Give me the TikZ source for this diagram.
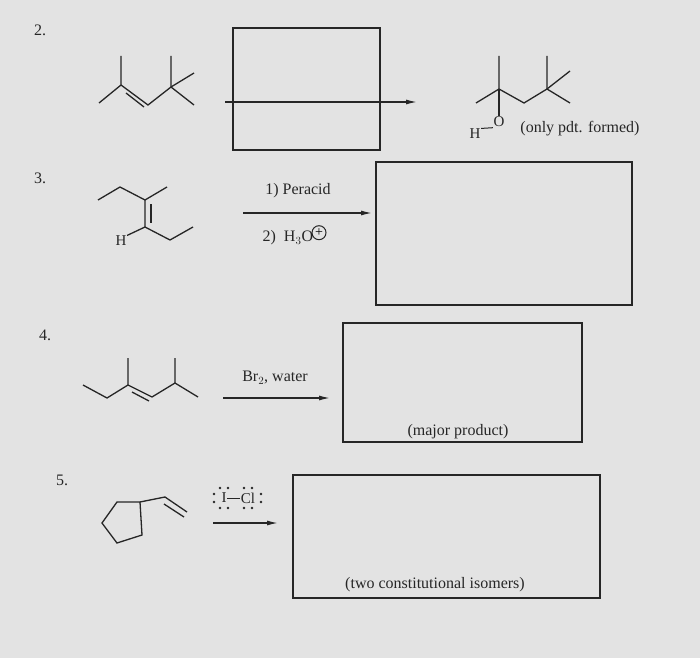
\documentclass[tikz,border=0pt]{standalone}
\usepackage{fontspec}
\setmainfont{Liberation Serif}
\usetikzlibrary{arrows.meta}
\begin{document}
\begin{tikzpicture}[x=1pt,y=-1pt,line width=1.3pt,
  bond/.style={draw=black!85},
  box/.style={draw=black!85,line width=1.4pt},
  rxn/.style={draw=black!85,-{Latex[length=11pt,width=5pt]}},
  lbl/.style={font=\fontsize{16}{18}\selectfont,text=black!85,inner sep=0pt},
  sm/.style={font=\fontsize{15}{17}\selectfont,text=black!85,inner sep=0pt},
  dot/.style={fill=black!85,circle,inner sep=0pt,minimum size=2.8pt}]
\fill[gray!22] (0,0) rectangle (700,658);
\useasboundingbox (0,0) rectangle (700,658);
% numbers
\node[lbl] (n2) at (40,30) {2.};
\node[lbl] (n3) at (40,178) {3.};
\node[lbl] (n4) at (45,335) {4.};
\node[lbl] (n5) at (62,480) {5.};
% problem 2
\draw[bond] (99,103)--(121,85)--(121,56);
\draw[bond] (121,85)--(148,105)--(171,87)--(171,56);
\draw[bond] (126,93)--(144,107);
\draw[bond] (171,87)--(194,73); \draw[bond] (171,87)--(194,105);
\draw[box] (233,28) rectangle (380,150);
\coordinate (a2s) at (225,102); \coordinate (a2e) at (417,102);
\draw[rxn] (a2s)--(a2e);
\node[sm] (O2) at (499,122) {O};
\node[sm] (H2) at (475,134) {H};
\draw[bond] (476,103)--(499,89)--(499,56);
\draw[bond] (499,89)--(O2.north);
\draw[bond,line width=1pt] (H2.north east)--(O2.south west);
\draw[bond] (499,89)--(524,103)--(547,89)--(547,56);
\draw[bond] (547,89)--(570,71); \draw[bond] (547,89)--(570,103);
\node[lbl] (t2) at (580,129) {(only pdt. formed)};
% problem 3
\draw[bond] (98,200)--(120,187)--(145,200)--(167,187);
\draw[bond] (145,200)--(145,227)--(170,240)--(193,227);
\draw[bond] (151,204)--(151,223);
\node[sm] (H3) at (121,241) {H};
\draw[bond] (H3.north east)--(145,227);
\coordinate (a3s) at (243,213); \coordinate (a3e) at (372,213);
\draw[rxn] (a3s)--(a3e);
\node[lbl] (t3a) at (298,191) {1) Peracid};
\node[lbl,anchor=west] (t3b) at (262,238) {2)~ H$_3$O};
\node[draw=black!85,circle,inner sep=0pt,minimum size=14pt,line width=1pt,font=\fontsize{14}{14}\selectfont,anchor=south west] (plus) at (t3b.east) {+};
\draw[box] (376,162) rectangle (632,305);
% problem 4
\draw[bond] (83,385)--(107,398)--(128,385)--(128,358);
\draw[bond] (128,385)--(152,397)--(175,383)--(175,358);
\draw[bond] (132,392)--(149,401);
\draw[bond] (175,383)--(198,397);
\coordinate (a4s) at (223,398); \coordinate (a4e) at (330,398);
\draw[rxn] (a4s)--(a4e);
\node[lbl] (t4) at (275,378) {Br$_2$, water};
\draw[box] (343,323) rectangle (582,442);
\node[lbl] (t4b) at (458,432) {(major product)};
% problem 5
\draw[bond] (140,502)--(117,502)--(102,523)--(117,543)--(142,535)--cycle;
\draw[bond] (140,502)--(165,497)--(187,512);
\draw[bond] (164,504)--(184,517);
\node[sm] (I5) at (224,498) {I};
\node[sm] (Cl5) at (248,498) {Cl};
\draw[line width=0.8pt,black!85] (I5.east)--(Cl5.west);
\foreach \p in {(220,488),(228,488),(220,508),(228,508),(244,488),(252,488),(244,508),(252,508)}
  \node[dot] at \p {};
\node[dot] at (214,494) {}; \node[dot] at (214,502) {};
\node[dot] at (261,494) {}; \node[dot] at (261,502) {};
\coordinate (a5s) at (213,523); \coordinate (a5e) at (278,523);
\draw[rxn] (a5s)--(a5e);
\draw[box] (293,475) rectangle (600,598);
\node[lbl] (t5) at (435,585) {(two constitutional isomers)};
\end{tikzpicture}
\end{document}
